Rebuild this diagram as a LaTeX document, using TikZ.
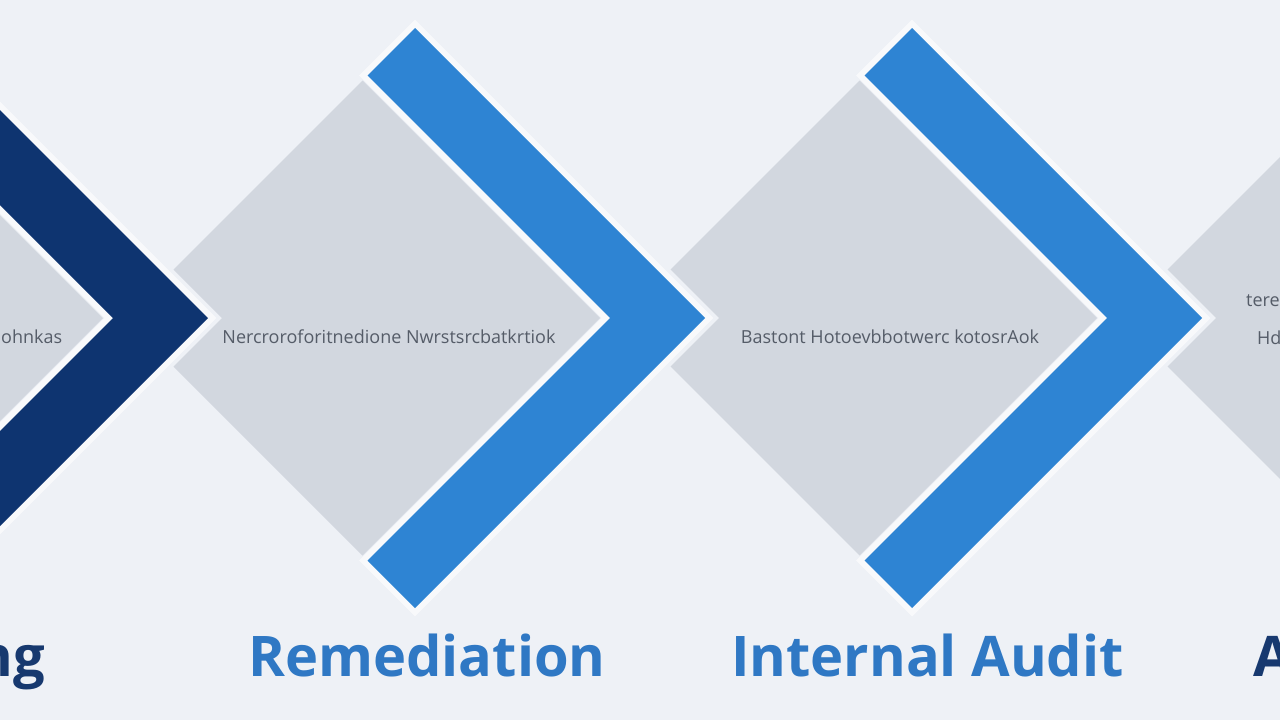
\documentclass[tikz,border=0pt]{standalone}
\usepackage{fontspec}
\setmainfont{Open Sans}
\definecolor{bgc}{HTML}{EEF1F6}
\definecolor{grayc}{HTML}{D2D7DF}
\definecolor{haloc}{HTML}{F8F9FB}
\definecolor{navyc}{HTML}{0E3470}
\definecolor{bluec}{HTML}{2E84D3}
\definecolor{lblblue}{HTML}{2F78C4}
\definecolor{lblnavy}{HTML}{17396F}
\definecolor{smalltxt}{HTML}{555C68}
\tikzset{
  grayshape/.style={fill=grayc},
  halo/.style={draw=haloc, line width=12pt, line join=miter},
  smalltext/.style={font=\fontsize{18}{21}\selectfont, text=smalltxt, inner sep=0pt},
  bigtext/.style={font=\fontsize{56}{60}\selectfont\bfseries, inner sep=0pt},
}
\begin{document}
\begin{tikzpicture}[x=1pt,y=-1pt]
\useasboundingbox (0,0) rectangle (1280,720);
\clip (0,0) rectangle (1280,720);
\fill[bgc] (0,0) rectangle (1280,720);
\foreach \o/\c in {-497/navyc, 0/bluec, 497/bluec, 994/bluec} {
  \begin{scope}[xshift=\o pt]
    \fill[grayshape] (600,318) -- (362.5,80.5) -- (173.5,269.5) -- (222,318) -- (173.5,366.5) -- (362.5,555.5) -- cycle;
    \draw[halo] (705,318) -- (415,28) -- (367.5,75.5) -- (610,318) -- (367.5,560.5) -- (415,608) -- cycle;
    \fill[\c] (705,318) -- (415,28) -- (367.5,75.5) -- (610,318) -- (367.5,560.5) -- (415,608) -- cycle;
  \end{scope}
}
\node[smalltext, anchor=west] (t1) at (1,337) {ohnkas};
\node[smalltext] (t2) at (389,337) {Nercroroforitnedione Nwrstsrcbatkrtiok};
\node[smalltext] (t3) at (890,337) {Bastont Hotoevbbotwerc kotosrAok};
\node[smalltext, anchor=west] (t4a) at (1246,301) {tere};
\node[smalltext, anchor=west] (t4b) at (1257,338) {Hd};
\node[bigtext, text=lblnavy, anchor=base east] (l1) at (45,676) {ng};
\node[bigtext, text=lblblue, anchor=base] (l2) at (427,676) {Remediation};
\node[bigtext, text=lblblue, anchor=base] (l3) at (927.5,676) {Internal Audit};
\node[bigtext, text=lblnavy, anchor=base west] (l4) at (1253,676) {A};
\end{tikzpicture}
\end{document}
